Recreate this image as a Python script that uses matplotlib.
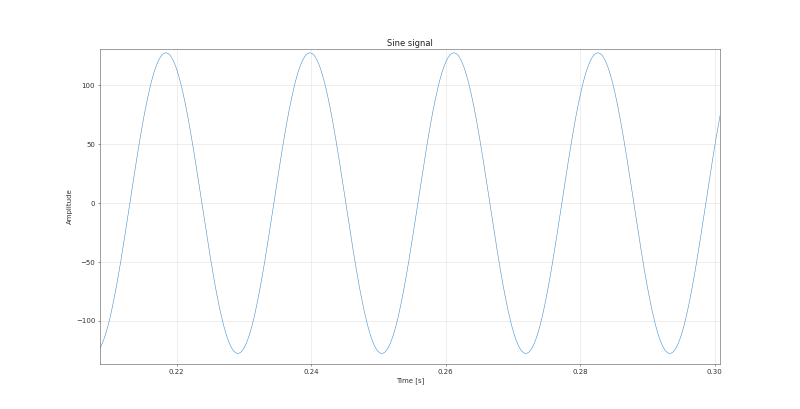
import numpy as np
import matplotlib
matplotlib.use("Agg")
import matplotlib.pyplot as plt

# Signal parameters
amplitude = 127.5
frequency_hz = 46.7
trough_time_s = 0.2291
sample_rate_hz = 8000
t_start, t_end = 0.2086, 0.3008

time_s = np.arange(t_start - 0.001, t_end + 0.001, 1.0 / sample_rate_hz)
signal = -amplitude * np.cos(2 * np.pi * frequency_hz * (time_s - trough_time_s))

x_ticks = [0.22, 0.24, 0.26, 0.28, 0.30]
y_ticks = [-100, -50, 0, 50, 100]

fig = plt.figure(figsize=(16, 8.18), dpi=50)
ax = fig.add_subplot(111)
ax.plot(time_s, signal, color="#4a90c8", linewidth=0.8)
ax.set_xlim(t_start, t_end)
ax.set_ylim(-136.5, 130.7)
ax.set_xticks(x_ticks)
ax.set_yticks(y_ticks)
ax.grid(True, color="#e2e2e2", linewidth=0.8)
for s in ax.spines.values():
    s.set_color("#555555")
ax.tick_params(colors="#444444", labelcolor="#333333")
ax.set_title("Sine signal", color="#222222", pad=4)
ax.set_xlabel("Time [s]", color="#333333")
ax.set_ylabel("Amplitude", color="#333333")
fig.savefig("out.png", dpi=50)
